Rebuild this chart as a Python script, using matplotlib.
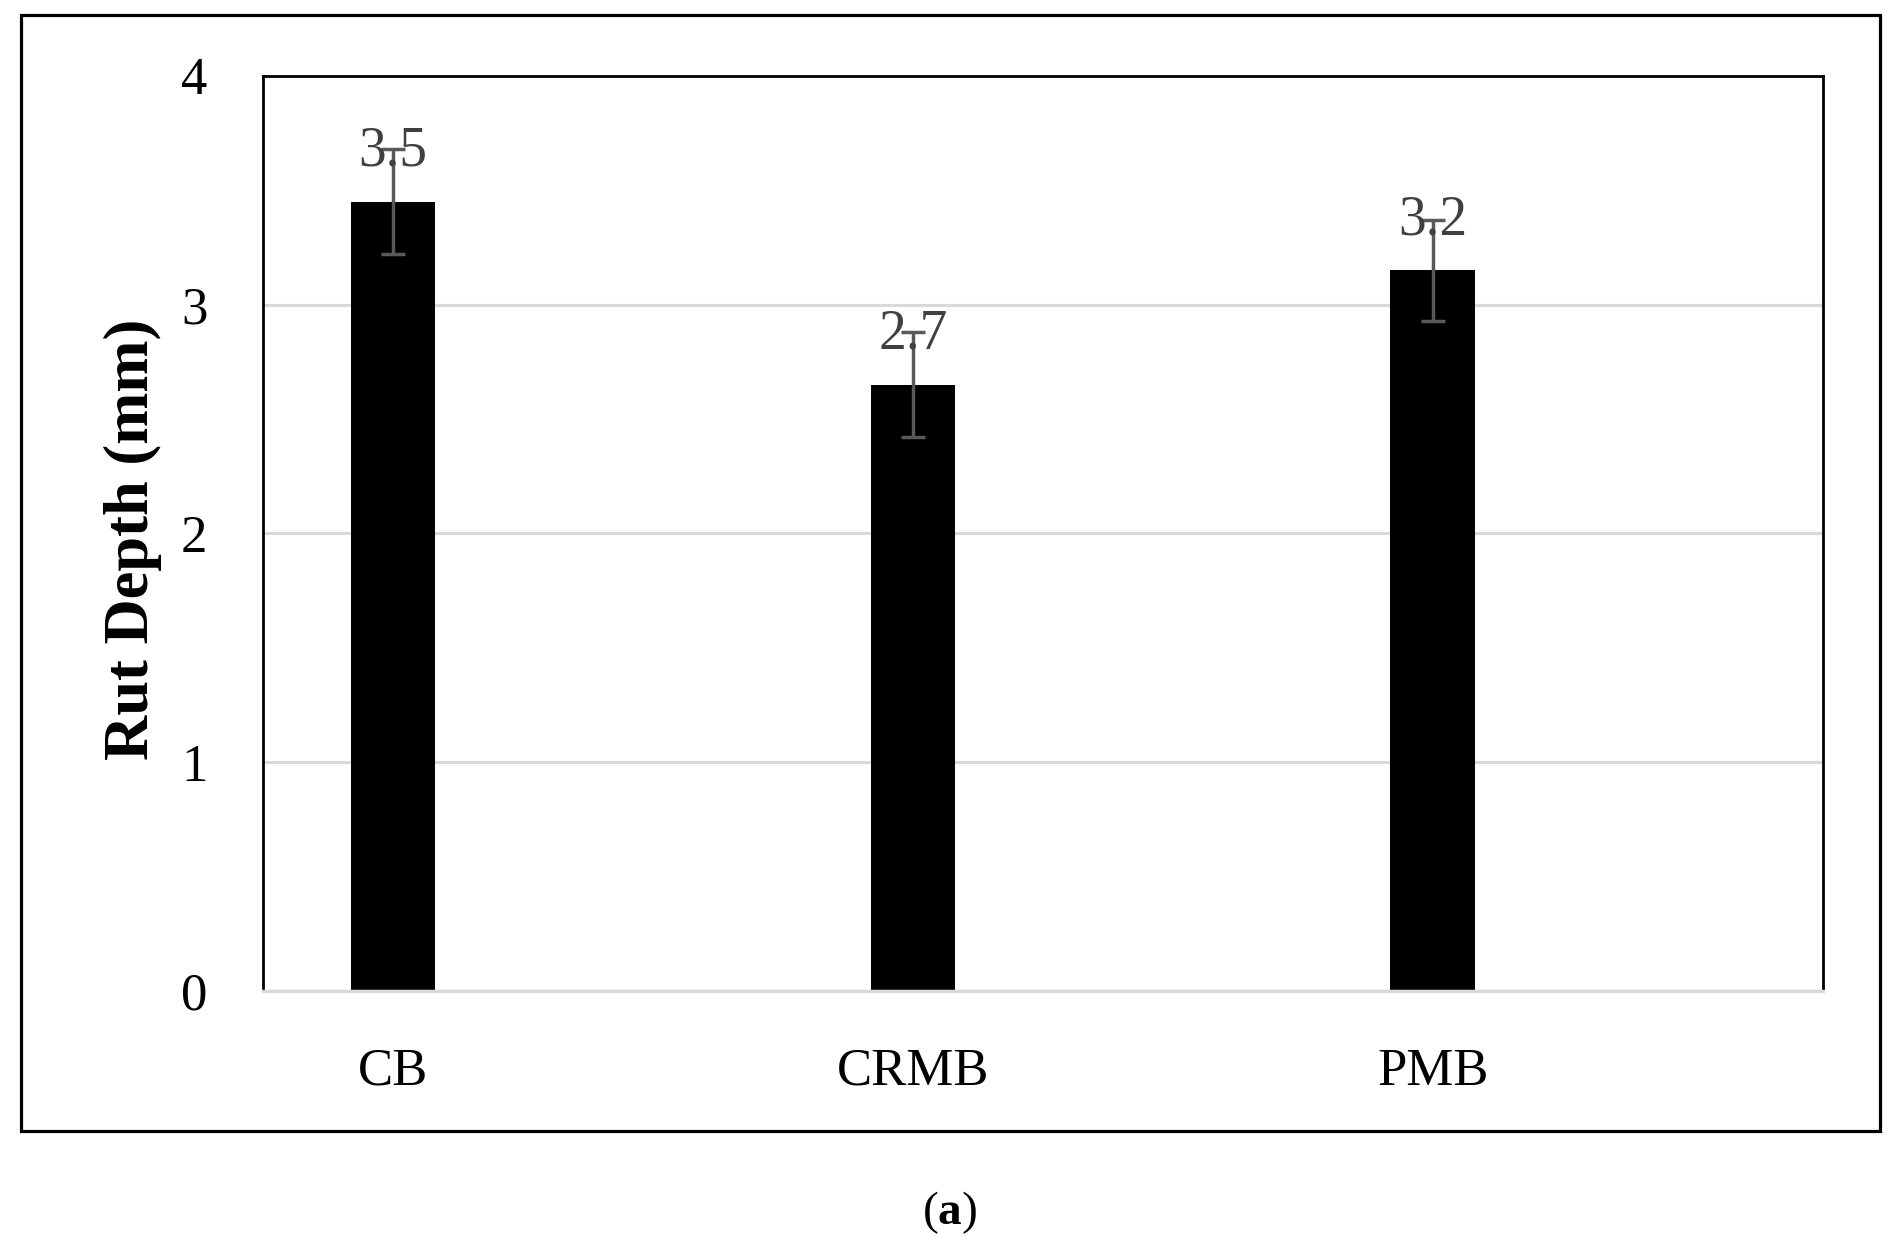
import matplotlib
matplotlib.use("Agg")
import matplotlib.pyplot as plt
from matplotlib.patches import Rectangle

plt.rcParams["font.family"] = ["Liberation Serif", "DejaVu Serif"]
plt.rcParams["mathtext.fontset"] = "custom"
plt.rcParams["mathtext.bf"] = "Liberation Serif:bold"
plt.rcParams["mathtext.rm"] = "Liberation Serif"

categories = ["CB", "CRMB", "PMB"]
rut_depth = [3.45, 2.65, 3.15]
errors = [0.23, 0.23, 0.22]
value_labels = ["3.5", "2.7", "3.2"]
y_ticks = [0, 1, 2, 3, 4]

fig = plt.figure(figsize=(19.01, 12.47), dpi=100)

# cadre extérieur
fig.patches.append(Rectangle((0.01105, 0.0930), 0.9779, 0.8949,
                             transform=fig.transFigure, fill=False,
                             edgecolor="black", linewidth=2.3))

ax = fig.add_axes([0.1383, 0.2053, 0.8206, 0.7338])

x = range(len(categories))
ax.bar(x, rut_depth, width=0.163, color="black", zorder=2)
ax.errorbar(x, rut_depth, yerr=errors, fmt="none", ecolor="#595959",
            elinewidth=2.5, capsize=8.6, capthick=2.5, zorder=3)

for i, (v, lab) in enumerate(zip(rut_depth, value_labels)):
    ax.annotate(lab, (i, v), xytext=(0, 36), textcoords="offset points",
                ha="center", va="center", fontsize=40, color="#404040",
                zorder=4)

ax.set_xlim(-0.25, 2.75)
ax.set_ylim(0, 4)
ax.set_yticks(y_ticks)
ax.set_xticks(list(x))
ax.set_xticklabels(categories)
ax.tick_params(axis="both", length=0, labelsize=38)
ax.tick_params(axis="y", pad=40)
ax.tick_params(axis="x", pad=41)

ax.yaxis.grid(True, color="#d9d9d9", linewidth=2.2, zorder=0)
ax.set_axisbelow(True)

for side in ["left", "top", "right"]:
    ax.spines[side].set_linewidth(2.0)
    ax.spines[side].set_color("black")
ax.spines["bottom"].set_color("#d9d9d9")
ax.spines["bottom"].set_linewidth(2.5)

fig.text(0.07, 0.5674, "Rut Depth (mm)", rotation=90, ha="center",
         va="center", fontsize=45, fontweight="bold")

fig.text(0.4997, 0.028, r"($\mathbf{a}$)", ha="center", va="center",
         fontsize=34)

fig.savefig("out.png", dpi=100)
